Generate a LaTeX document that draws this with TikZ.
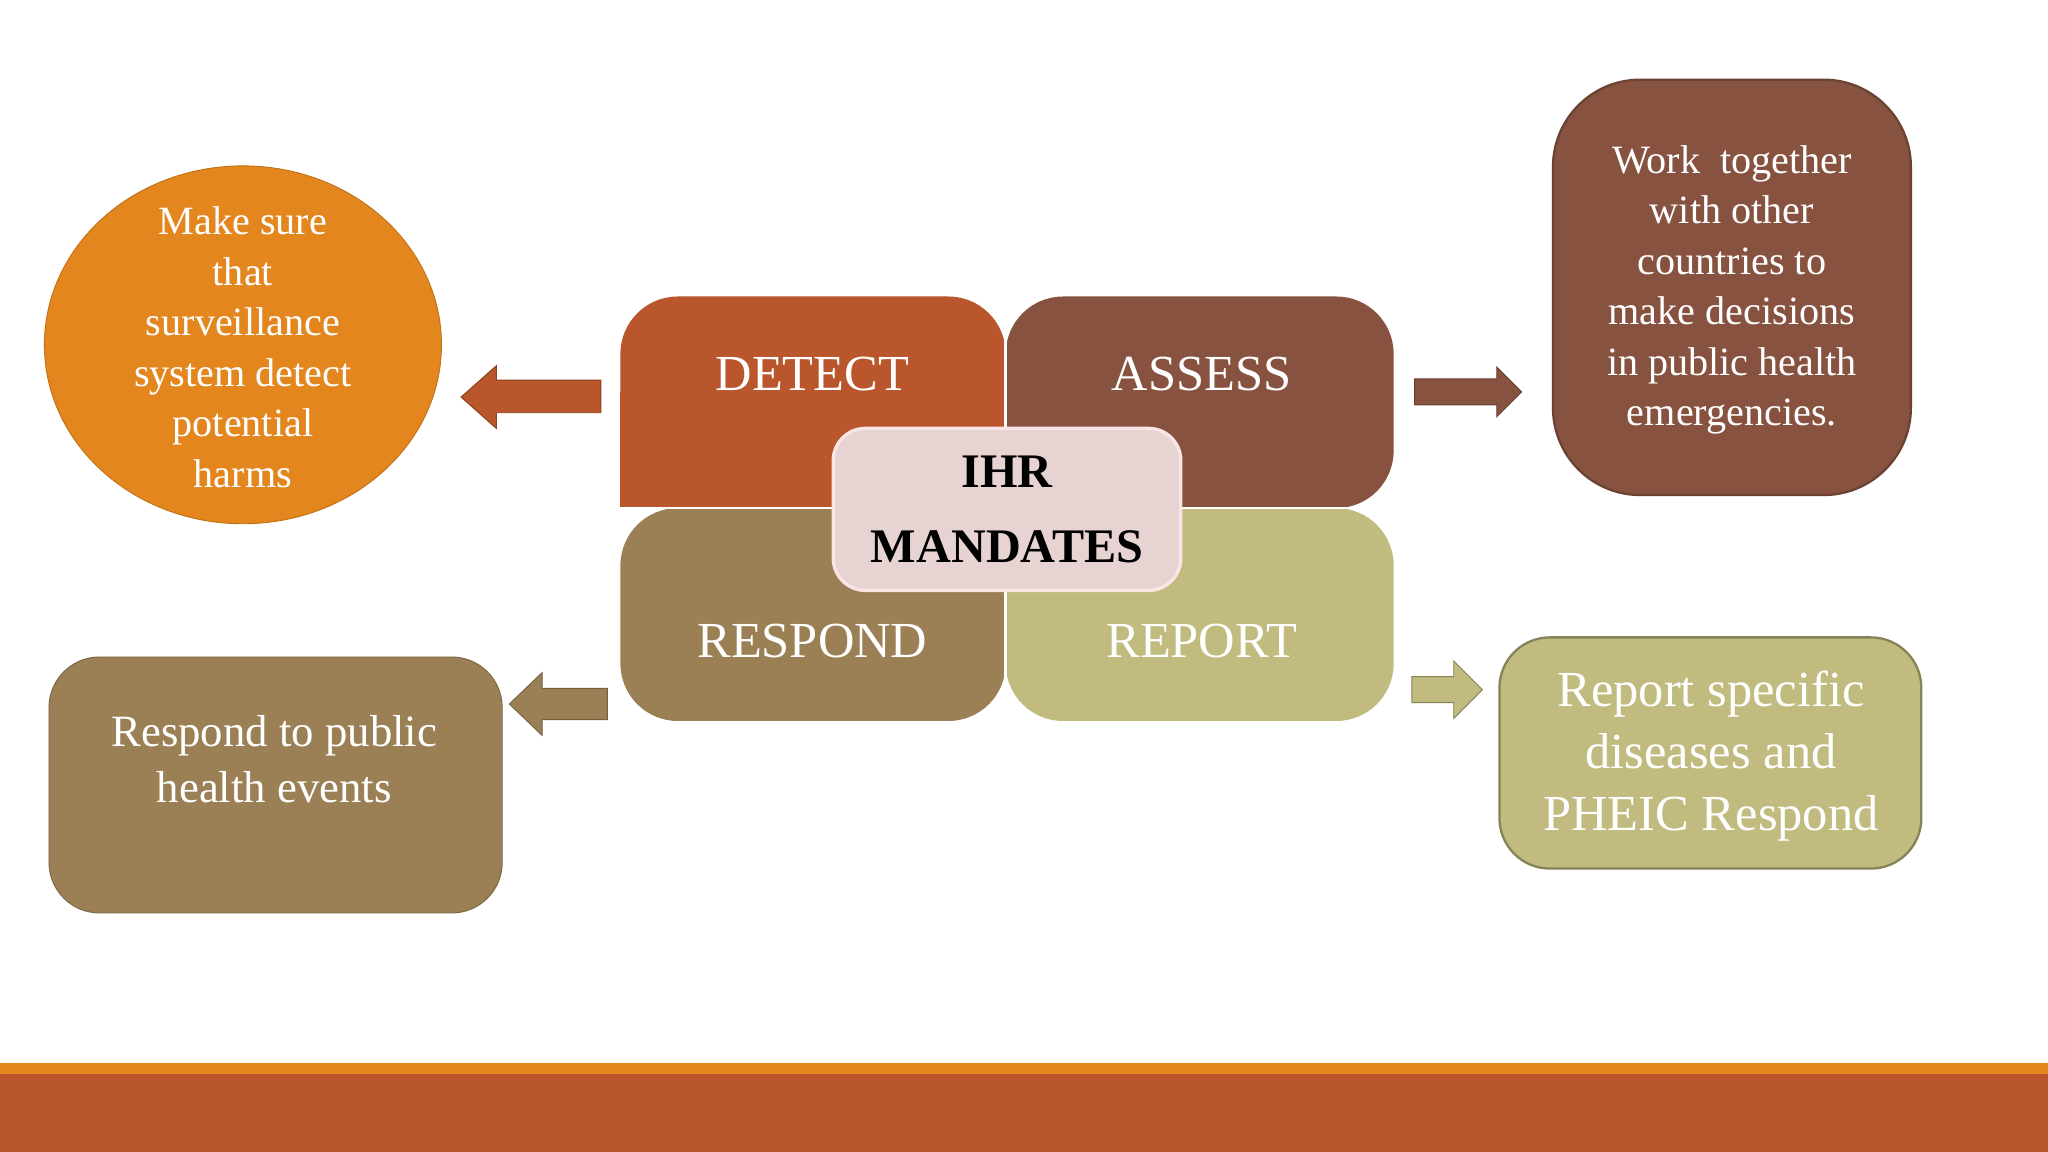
\documentclass[tikz,border=0pt]{standalone}
\usepackage{fontspec}
\setmainfont{Liberation Serif}
\usetikzlibrary{shapes.geometric}
\definecolor{rust}{HTML}{B9562C}
\definecolor{brownr}{HTML}{875340}
\definecolor{olive}{HTML}{9A8054}
\definecolor{khaki}{HTML}{C1BB7F}
\definecolor{orng}{HTML}{E3861E}
\definecolor{pinkb}{HTML}{E8D3D3}
\begin{document}
\begin{tikzpicture}[x=0.02cm,y=-0.02cm,
  wt/.style={text=white,align=center,font=\fontsize{18}{22}\selectfont},
  quad/.style={text=white,font=\fontsize{22}{26}\selectfont}]
\useasboundingbox (0,0) rectangle (1568,882);
\fill[white] (0,0) rectangle (1568,882);
% bottom bar
\fill[orng] (0,814) rectangle (1568,822);
\fill[rust] (0,822) rectangle (1568,882);
% quadrants
\fill[rust,rounded corners=25] (475,389) |- (770,227) -- (770,389) -- cycle;
\fill[rust] (475,300) rectangle (770,389);
\fill[brownr,rounded corners=25] (770,227) -| (1067,389) -- (770,389) -- cycle;
\fill[olive,rounded corners=25] (770,389) -- (770,552) -| (475,389) -- cycle;
\fill[khaki,rounded corners=25] (770,389) -| (1067,552) -- (770,552) -- cycle;
\draw[white,line width=1.2] (770,227) -- (770,552) (475,389) -- (1067,389);
\node[quad] (detect) at (622,286) {DETECT};
\node[quad] (assess) at (920,286) {ASSESS};
\node[quad] (respond) at (622,491) {RESPOND};
\node[quad] (report) at (920,491) {REPORT};
\node[draw=pinkb!80!red!30,line width=1.5,fill=pinkb,rounded corners=14,minimum width=266*0.02cm,minimum height=124*0.02cm,align=center,font=\bfseries\fontsize{21}{33}\selectfont] (ihr) at (771,390) {IHR\\MANDATES};
% left ellipse
\node[ellipse,draw=orng!85!black,fill=orng,minimum width=304*0.02cm,minimum height=274*0.02cm] (ell) at (186,264) {};
\node[wt,font=\fontsize{17.5}{22}\selectfont] at (186,266) {Make sure\\that\\surveillance\\system detect\\potential\\harms};
% respond box
\node[fill=olive,draw=olive!80!black,rounded corners=22,minimum width=347*0.02cm,minimum height=196*0.02cm] (rbox) at (211,601) {};
\node[wt,font=\fontsize{19.5}{24.5}\selectfont] at (210,581) {Respond to public\\health events};
% work box
\node[fill=brownr,draw=brownr!80!black,line width=1,rounded corners=38,minimum width=274*0.02cm,minimum height=318*0.02cm] (wbox) at (1326,220) {};
\node[wt,font=\fontsize{17.5}{22}\selectfont] at (1326,222) {Work\ \ together\\with other\\countries to\\make decisions\\in public health\\emergencies.};
% report box
\draw[fill=khaki,draw=khaki!70!black,line width=1,rounded corners=22] (1148,488) -- (1471,488) -- (1471,665) -- (1148,665) -- cycle;
\node[wt,font=\fontsize{22}{27}\selectfont] (rtext) at (1310,579) {Report specific\\diseases and\\PHEIC Respond};
% arrows
\draw[fill=rust,draw=rust!75!black] (460,291) -- (380,291) -- (380,280) -- (353,304) -- (380,328) -- (380,316) -- (460,316) -- cycle;
\draw[fill=olive,draw=olive!75!black] (465,527) -- (415,527) -- (415,515) -- (390,539) -- (415,563) -- (415,551) -- (465,551) -- cycle;
\draw[fill=brownr,draw=brownr!75!black] (1083,290) -- (1146,290) -- (1146,281) -- (1165,300) -- (1146,319) -- (1146,310) -- (1083,310) -- cycle;
\draw[fill=khaki,draw=khaki!70!black] (1081,518) -- (1113,518) -- (1113,506) -- (1135,528) -- (1113,550) -- (1113,538) -- (1081,538) -- cycle;
\end{tikzpicture}
\end{document}
